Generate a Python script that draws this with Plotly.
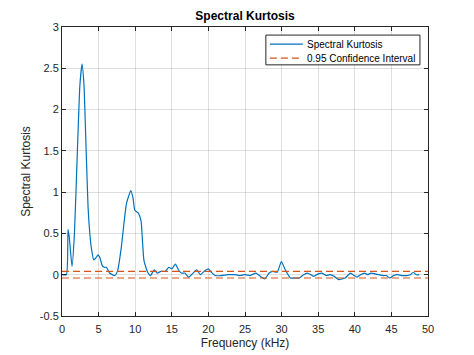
import plotly.graph_objects as go

freq_khz = [0, 0.6, 0.82, 1.0, 1.37, 1.7, 2.1, 2.45, 2.74, 3.0, 3.3, 3.56, 3.8, 4.0, 4.34, 4.6, 4.93,
            5.2, 5.5, 5.8, 6.07, 6.5, 7.2, 7.6, 8.1, 8.5, 8.8, 9.1, 9.4, 9.7, 9.95, 10.4, 10.8, 11.0,
            11.2, 11.7, 12.1, 12.6, 13.0, 13.5, 14.1, 14.6, 15.0, 15.5, 15.9, 16.3, 16.8, 17.3, 17.8,
            18.4, 18.9, 19.4, 20.0, 20.4, 20.9, 21.8, 22.7, 23.6, 24.3, 25.0, 25.7, 26.5, 27.1, 27.7,
            28.3, 28.8, 29.4, 29.97, 30.5, 31.2, 31.8, 32.4, 33.0, 33.5, 34.0, 34.4, 35.0, 35.5, 36.1,
            36.6, 37.2, 37.8, 38.3, 38.7, 39.4, 39.9, 40.3, 40.8, 41.3, 41.8, 42.2, 42.8, 43.3, 43.9,
            44.3, 44.8, 45.3, 45.8, 46.4, 47.1, 47.6, 48.0, 48.4, 48.8]
sk_values = [0, 0.0, 0.55, 0.45, 0.10, 0.5, 1.5, 2.3, 2.55, 2.3, 1.5, 0.82, 0.5, 0.33, 0.18, 0.2, 0.24,
             0.2, 0.11, 0.09, 0.09, 0.02, -0.01, 0.05, 0.33, 0.65, 0.86, 0.95, 1.02, 0.93, 0.78, 0.75, 0.65, 0.4,
             0.17, 0.03, -0.01, 0.06, 0.02, 0.04, 0.04, 0.09, 0.07, 0.13, 0.06, 0.02, 0.02, -0.03, 0.01,
             0.06, 0.0, 0.04, 0.07, 0.03, -0.01, -0.01, 0.0, 0.0, -0.01, 0.0, -0.01, 0.02, -0.02, -0.05,
             0.02, 0.04, 0.03, 0.16, 0.06, -0.04, -0.04, -0.04, 0.0, 0.02, 0.0, -0.02, 0.01, 0.02, -0.01,
             0.0, -0.02, -0.06, -0.05, -0.04, 0.02, -0.01, -0.03, 0.0, 0.02, 0.0, 0.02, 0.01, 0.0, -0.01,
             -0.01, -0.04, -0.01, 0.0, -0.01, -0.01, 0.0, 0.03, 0.0, 0.0]
ci_x = [0, 50]
ci_upper = [0.04, 0.04]
ci_lower = [-0.04, -0.04]

series_names = ["Spectral Kurtosis", "0.95 Confidence Interval"]
x_ticks = [0, 5, 10, 15, 20, 25, 30, 35, 40, 45, 50]
y_ticks = [-0.5, 0, 0.5, 1, 1.5, 2, 2.5, 3]
y_tick_labels = ["-0.5", "0", "0.5", "1", "1.5", "2", "2.5", "3"]

blue = "#0072BD"
orange = "#D95319"
axc = "#262626"
gridc = "rgba(38,38,38,0.15)"
font = "Liberation Sans, Arial, Helvetica, sans-serif"
dash = "7px,4px"

fig = go.Figure()
fig.add_trace(go.Scatter(x=freq_khz, y=sk_values, mode="lines", name=series_names[0],
                         line=dict(color=blue, width=1.2, shape="spline", smoothing=0.5)))
fig.add_trace(go.Scatter(x=ci_x, y=ci_upper, mode="lines", name=series_names[1],
                         line=dict(color=orange, width=1.2, dash=dash)))
fig.add_trace(go.Scatter(x=ci_x, y=ci_lower, mode="lines", name=series_names[1],
                         line=dict(color=orange, width=1.2, dash=dash)))

axis_common = dict(showline=True, linecolor=axc, linewidth=1, mirror="ticks", ticks="inside",
                   ticklen=4, tickcolor=axc, showgrid=True, gridcolor=gridc, gridwidth=1,
                   zeroline=False, automargin=False, tickfont=dict(family=font, size=11, color=axc))

# Legend box drawn in paper coordinates (MATLAB-style compact legend)
lx0, lx1, ly0, ly1 = 0.557, 0.978, 0.869, 0.972
row_y = [0.941, 0.892]
shapes = [dict(type="rect", xref="paper", yref="paper", x0=lx0, x1=lx1, y0=ly0, y1=ly1,
               line=dict(color=axc, width=1), fillcolor="white", layer="above")]
shapes.append(dict(type="line", xref="paper", yref="paper", x0=0.568, x1=0.658, y0=row_y[0], y1=row_y[0],
                   line=dict(color=blue, width=1.2), layer="above"))
shapes.append(dict(type="line", xref="paper", yref="paper", x0=0.568, x1=0.658, y0=row_y[1], y1=row_y[1],
                   line=dict(color=orange, width=1.2, dash=dash), layer="above"))
annotations = [dict(text=name, xref="paper", yref="paper", x=0.663, y=yy, xanchor="left", yanchor="middle",
                    showarrow=False, font=dict(family=font, size=10, color="black"))
               for name, yy in zip(series_names, row_y)]

fig.update_layout(
    width=474, height=355,
    margin=dict(l=62, r=46, t=27, b=39),
    paper_bgcolor="white", plot_bgcolor="white",
    font=dict(family=font, color=axc),
    title=dict(text="<b>Spectral Kurtosis</b>", x=0.517, xanchor="center",
               y=1 - 15.5 / 355, yanchor="middle", yref="container",
               font=dict(family=font, size=12, color="black")),
    xaxis=dict(range=[0, 50], tickmode="array", tickvals=x_ticks, ticklabelstandoff=3,
               title=dict(text="Frequency (kHz)", font=dict(family=font, size=12, color=axc), standoff=4),
               **axis_common),
    yaxis=dict(range=[-0.5, 3], tickmode="array", tickvals=y_ticks, ticktext=y_tick_labels,
               title=dict(text="Spectral Kurtosis", font=dict(family=font, size=12, color=axc), standoff=6),
               **axis_common),
    showlegend=False,
    shapes=shapes,
    annotations=annotations,
)

fig.write_html("out.html", config={"displayModeBar": False},
               post_script="document.body.style.margin='0';document.body.style.overflow='hidden';")
